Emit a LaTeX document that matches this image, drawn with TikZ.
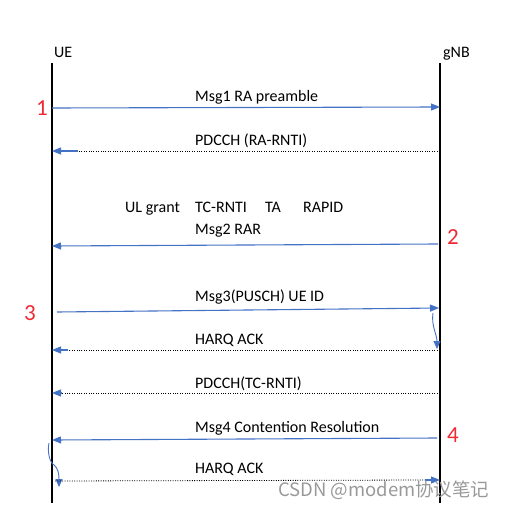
\documentclass[tikz,border=0pt]{standalone}
\usepackage{fontspec}
\setmainfont{Carlito}
\newfontfamily\wmfont{Noto Sans CJK SC}
\usetikzlibrary{arrows.meta}
\definecolor{msgblue}{HTML}{4472C4}
\definecolor{numred}{HTML}{EE2B35}
\tikzset{
  lifeline/.style={draw=black, line width=1.1bp},
  solidmsg/.style={draw=msgblue, line width=1.1bp, -{Triangle[length=9bp,width=7bp]}},
  dotmsg/.style={draw=black, line width=0.8bp, dash pattern=on 1bp off 1.4bp},
  tipseg/.style={draw=msgblue, line width=1.1bp, -{Triangle[length=9bp,width=7bp]}},
  curvemsg/.style={draw=msgblue, line width=0.9bp, -{Triangle[length=8bp,width=7bp]}},
  lbl/.style={font=\fontsize{16bp}{19bp}\selectfont, anchor=base west, inner sep=0pt},
  num/.style={font=\fontsize{23bp}{26bp}\selectfont, text=numred, inner sep=0pt},
}
\begin{document}
\begin{tikzpicture}[x=1bp,y=-1bp]
\useasboundingbox (0,0) rectangle (509,509);
% lifelines
\coordinate (ueT) at (52,63); \coordinate (ueB) at (52,503);
\coordinate (gnT) at (440,63); \coordinate (gnB) at (440,503);
\draw[lifeline] (ueT) -- (ueB);
\draw[lifeline] (gnT) -- (gnB);
\node[lbl] (ue) at (54,58) {UE};
\node[lbl] (gnb) at (443,58) {gNB};
% Msg1
\coordinate (m1a) at (52,108); \coordinate (m1b) at (440,107);
\draw[solidmsg] (m1a) -- (m1b);
\node[lbl] (m1l) at (195,102) {Msg1 RA preamble};
\node[num] (n1) at (42,108) {1};
% PDCCH RA-RNTI
\coordinate (p1a) at (440,151); \coordinate (p1b) at (52,151); \coordinate (p1c) at (78,151);
\draw[dotmsg] (p1a) -- (p1c);
\draw[tipseg] (p1c) -- (p1b);
\node[lbl] (p1l) at (195,146) {PDCCH (RA-RNTI)};
% Msg2
\node[lbl] (grant) at (125,212) {\makebox[70bp][l]{UL grant}\makebox[70bp][l]{TC-RNTI}\makebox[38bp][l]{TA}RAPID};
\node[lbl] (m2l) at (195,234) {Msg2 RAR};
\coordinate (m2a) at (438,244); \coordinate (m2b) at (52,246);
\draw[solidmsg] (m2a) -- (m2b);
\node[num] (n2) at (453,237) {2};
% Msg3
\coordinate (m3a) at (57,312); \coordinate (m3b) at (439,308);
\draw[solidmsg] (m3a) -- (m3b);
\node[lbl] (m3l) at (195,301) {Msg3(PUSCH) UE ID};
\node[num] (n3) at (30,313) {3};
\coordinate (c1a) at (433,313); \coordinate (c1b) at (437,349);
\draw[curvemsg] (c1a) .. controls (431,325) and (437,335) .. (c1b);
% HARQ ACK 1
\coordinate (h1a) at (440,350); \coordinate (h1b) at (52,350); \coordinate (h1c) at (68,350);
\draw[dotmsg] (h1a) -- (h1c);
\draw[tipseg] (h1c) -- (h1b);
\node[lbl] (h1l) at (195,344) {HARQ ACK};
% PDCCH TC-RNTI
\coordinate (p2a) at (440,393); \coordinate (p2b) at (52,393); \coordinate (p2c) at (62,393);
\draw[dotmsg] (p2a) -- (p2c);
\draw[tipseg] (p2c) -- (p2b);
\node[lbl] (p2l) at (195,388) {PDCCH(TC-RNTI)};
% Msg4
\coordinate (m4a) at (437,438); \coordinate (m4b) at (52,440);
\draw[solidmsg] (m4a) -- (m4b);
\node[lbl] (m4l) at (195,432) {Msg4 Contention Resolution};
\node[num] (n4) at (453,435) {4};
\coordinate (c2a) at (49,443); \coordinate (c2b) at (59,487);
\draw[curvemsg] (c2a) .. controls (47,452) and (50,463) .. (54,465) .. controls (58,468) and (59,474) .. (c2b);
% HARQ ACK 2
\coordinate (h2a) at (55,481); \coordinate (h2b) at (440,480); \coordinate (h2c) at (425,480);
\draw[dotmsg] (h2a) -- (h2c);
\draw[tipseg] (h2c) -- (h2b);
\node[lbl] (h2l) at (195,473) {HARQ ACK};
% watermark
\node[font=\wmfont\fontsize{18.5bp}{22bp}\selectfont, text=black!40, anchor=west, inner sep=0pt] (wm) at (278,490) {CSDN @modem协议笔记};
\end{tikzpicture}
\end{document}
